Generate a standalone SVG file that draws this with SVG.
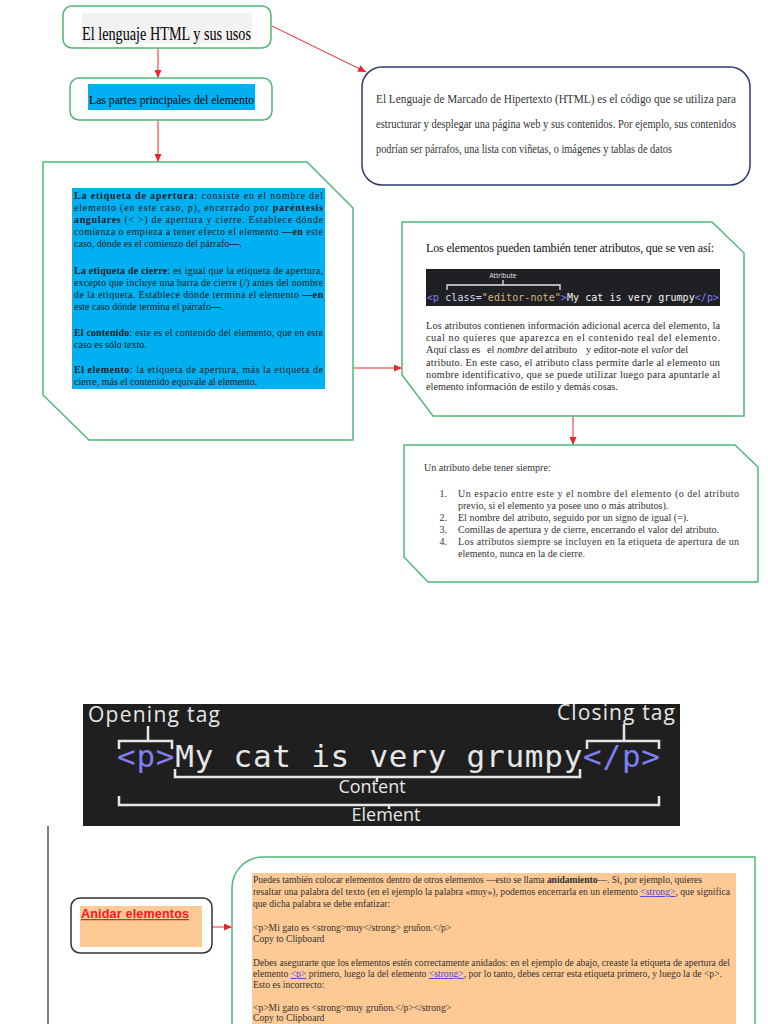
<svg xmlns="http://www.w3.org/2000/svg" width="768" height="1024" viewBox="0 0 768 1024">
<defs>
<marker id="ah" markerUnits="userSpaceOnUse" markerWidth="8" markerHeight="7" refX="8" refY="3.5" orient="auto">
<path d="M0,0 L8,3.5 L0,7 z" fill="#e8282b"/>
</marker>
<style>
.gr{fill:#fff;stroke:#4fb878;stroke-width:1.5}
.sf{font-family:"Liberation Serif","Times New Roman",serif}
.cn{stroke:#e8282b;stroke-width:1;fill:none;marker-end:url(#ah)}
.bx{font-size:10px;fill:#1c1c24}
.at{font-size:10.3px;fill:#2a2a2a}
.ls{font-size:10px;fill:#333}
.nb{font-size:9.6px;fill:#333}
.lk{fill:#4a3ee0;text-decoration:underline}
.wl{font-family:"Open Sans","DejaVu Sans",sans-serif;fill:#e6e6e6}
.br{fill:none;stroke:#e6e6e6;stroke-width:2.5}
.mono{font-family:"DejaVu Sans Mono","Liberation Mono",monospace}
</style>
</defs>
<rect width="768" height="1024" fill="#fff"/>

<g id="connectors">
<line class="cn" x1="158" y1="48" x2="158" y2="78"/>
<line class="cn" x1="272" y1="26" x2="366" y2="72"/>
<line class="cn" x1="158" y1="120" x2="158" y2="162"/>
<line class="cn" x1="354" y1="368" x2="402" y2="368"/>
<line class="cn" x1="573" y1="416" x2="573" y2="445"/>
<line class="cn" x1="212" y1="927" x2="232" y2="927"/>
</g>

<g id="title">
<rect class="gr" x="63" y="6" width="208" height="42" rx="9"/>
<rect x="82" y="13" width="170" height="30" fill="#f2f2f2"/>
<text class="sf" x="82" y="40" font-size="18" textLength="169" lengthAdjust="spacingAndGlyphs" fill="#000">El lenguaje HTML y sus usos</text>
</g>

<g id="partes">
<rect class="gr" x="70" y="78" width="202" height="42" rx="9"/>
<rect x="88" y="84" width="167" height="26" fill="#00b0f0"/>
<text class="sf" x="89" y="104" font-size="13" textLength="165" lengthAdjust="spacingAndGlyphs" fill="#000">Las partes principales del elemento</text>
</g>

<g id="descripcion">
<rect x="362" y="67" width="388" height="118" rx="20" fill="#fff" stroke="#2e3b6e" stroke-width="1.5"/>
<g class="sf" font-size="11.5" fill="#333">
<text x="376" y="103" textLength="360" lengthAdjust="spacingAndGlyphs">El Lenguaje de Marcado de Hipertexto (HTML) es el código que se utiliza para</text>
<text x="376" y="128" textLength="360" lengthAdjust="spacingAndGlyphs">estructurar y desplegar una página web y sus contenidos. Por ejemplo, sus contenidos</text>
<text x="376" y="153" textLength="296" lengthAdjust="spacingAndGlyphs">podrían ser párrafos, una lista con viñetas, o imágenes y tablas de datos</text>
</g>
</g>

<g id="partes-detalle">
<polygon class="gr" points="43,162 307,162 353,208 353,440 89,440 43,395"/>
<rect x="72" y="188" width="253" height="201" fill="#00b0f0"/>
<g class="sf bx">
<text x="74" y="199" textLength="249"><tspan font-weight="bold">La etiqueta de apertura</tspan>: consiste en el nombre del</text>
<text x="74" y="211" textLength="249">elemento (en este caso, p), encerrado por <tspan font-weight="bold">paréntesis</tspan></text>
<text x="74" y="223" textLength="249"><tspan font-weight="bold">angulares</tspan> (&lt; &gt;) de apertura y cierre. Establece dónde</text>
<text x="74" y="235" textLength="249">comienza o empieza a tener efecto el elemento <tspan font-weight="bold">—en</tspan> este</text>
<text x="74" y="247">caso, dónde es el comienzo del párrafo<tspan font-weight="bold">—</tspan>.</text>
<text x="74" y="274" textLength="249"><tspan font-weight="bold">La etiqueta de cierre</tspan>: es igual que la etiqueta de apertura,</text>
<text x="74" y="286" textLength="249">excepto que incluye una barra de cierre (/) antes del nombre</text>
<text x="74" y="298" textLength="249">de la etiqueta. Establece dónde termina el elemento <tspan font-weight="bold">—en</tspan></text>
<text x="74" y="310">este caso dónde termina el párrafo<tspan font-weight="bold">—</tspan>.</text>
<text x="74" y="336" textLength="249"><tspan font-weight="bold">El contenido</tspan>: este es el contenido del elemento, que en este</text>
<text x="74" y="348">caso es sólo texto.</text>
<text x="74" y="373" textLength="249"><tspan font-weight="bold">El elemento</tspan>: la etiqueta de apertura, más la etiqueta de</text>
<text x="74" y="385">cierre, más el contenido equivale al elemento.</text>
</g>
</g>

<g id="atributos">
<polygon class="gr" points="402,222 712,222 744,253 744,416 433,416 402,375"/>
<text class="sf" x="426" y="252" font-size="12" fill="#111" textLength="288">Los elementos pueden también tener atributos, que se ven así:</text>
<rect x="426" y="269" width="294" height="37" fill="#1f2023"/>
<text x="503" y="278" font-family="'Open Sans','DejaVu Sans',sans-serif" font-size="6.5" fill="#e6e6e6" text-anchor="middle">Attribute</text>
<path d="M447,290 V285 H560 V290 M503,285 V280" fill="none" stroke="#e6e6e6" stroke-width="1.3"/>
<text class="mono" x="427" y="301" font-size="10" textLength="292"><tspan fill="#7f7ff5">&lt;p</tspan><tspan fill="#d6dcf0"> class=</tspan><tspan fill="#d4b47c">"editor-note"</tspan><tspan fill="#7f7ff5">&gt;</tspan><tspan fill="#f2f2f2">My cat is very grumpy</tspan><tspan fill="#7f7ff5">&lt;/p&gt;</tspan></text>
<g class="sf at">
<text x="426" y="329" textLength="294">Los atributos contienen información adicional acerca del elemento, la</text>
<text x="426" y="341" textLength="294">cual no quieres que aparezca en el contenido real del elemento.</text>
<text y="353"><tspan x="426">Aquí class es</tspan><tspan x="487">el </tspan><tspan font-style="italic">nombre</tspan><tspan> del</tspan><tspan x="545">atributo</tspan><tspan x="586">y editor-note el </tspan><tspan font-style="italic">valor</tspan><tspan> del</tspan></text>
<text x="426" y="366" textLength="294">atributo. En este caso, el atributo class permite darle al elemento un</text>
<text x="426" y="378" textLength="294">nombre identificativo, que se puede utilizar luego para apuntarle al</text>
<text x="426" y="390">elemento información de estilo y demás cosas.</text>
</g>
</g>

<g id="requisitos">
<polygon class="gr" points="404,445 735,445 758,467 758,582 428,582 404,557"/>
<g class="sf ls">
<text x="424" y="471">Un atributo debe tener siempre:</text>
<text x="447" y="497" text-anchor="end">1.</text>
<text x="458" y="497" textLength="281">Un espacio entre este y el nombre del elemento (o del atributo</text>
<text x="458" y="509">previo, si el elemento ya posee uno o más atributos).</text>
<text x="447" y="521" text-anchor="end">2.</text>
<text x="458" y="521">El nombre del atributo, seguido por un signo de igual (=).</text>
<text x="447" y="533" text-anchor="end">3.</text>
<text x="458" y="533">Comillas de apertura y de cierre, encerrando el valor del atributo.</text>
<text x="447" y="545" text-anchor="end">4.</text>
<text x="458" y="545" textLength="281">Los atributos siempre se incluyen en la etiqueta de apertura de un</text>
<text x="458" y="557">elemento, nunca en la de cierre.</text>
</g>
</g>

<g id="anatomia">
<rect x="83" y="704" width="597" height="122" fill="#1f1f1f"/>
<text class="wl" x="88" y="722" font-size="21" textLength="132">Opening tag</text>
<text class="wl" x="557" y="720" font-size="21" textLength="118">Closing tag</text>
<path class="br" d="M148,726 V741 M119,749 V741 H172 V749"/>
<path class="br" d="M624,724 V741 M587,749 V741 H659 V749"/>
<text class="mono" x="117" y="767" font-size="31" textLength="543"><tspan fill="#7f7ff5">&lt;p&gt;</tspan><tspan fill="#e6e6e6">My cat is very grumpy</tspan><tspan fill="#7f7ff5">&lt;/p&gt;</tspan></text>
<path class="br" d="M175,769 V777 H580 V769 M377,777 V782"/>
<text class="wl" x="372" y="793" font-size="18" text-anchor="middle">Content</text>
<path class="br" d="M119,796 V805 H659 V796 M389,805 V809"/>
<text class="wl" x="386" y="821" font-size="18" text-anchor="middle">Element</text>
</g>

<line x1="48" y1="826" x2="48" y2="1024" stroke="#555" stroke-width="1.5"/>

<g id="anidar">
<rect x="71" y="898" width="141" height="55" rx="9" fill="#fff" stroke="#333" stroke-width="1.5"/>
<rect x="80" y="906" width="122" height="41" fill="#fdc994"/>
<text x="81" y="918" font-family="'Liberation Sans',Arial,sans-serif" font-size="12.5" font-weight="bold" fill="#ee1c24" text-decoration="underline" textLength="108">Anidar elementos</text>
</g>

<g id="anidamiento">
<path class="gr" d="M232,1030 V888 A31,31 0 0 1 263,857 H755 V1030"/>
<rect x="252" y="873" width="484" height="160" fill="#fdc994"/>
<g class="sf nb">
<text x="253" y="883" textLength="449">Puedes también colocar elementos dentro de otros elementos —esto se llama <tspan font-weight="bold">anidamiento—</tspan>. Si, por ejemplo, quieres</text>
<text x="253" y="895" textLength="477">resaltar una palabra del texto (en el ejemplo la palabra «muy»), podemos encerrarla en un elemento <tspan class="lk">&lt;strong&gt;</tspan>, que significa</text>
<text x="253" y="907">que dicha palabra se debe enfatizar:</text>
<text x="253" y="931">&lt;p&gt;Mi gato es &lt;strong&gt;muy&lt;/strong&gt; gruñon.&lt;/p&gt;</text>
<text x="253" y="942">Copy to Clipboard</text>
<text x="253" y="966" textLength="477">Debes asegurarte que los elementos estén correctamente anidados: en el ejemplo de abajo, creaste la etiqueta de apertura del</text>
<text x="253" y="977" textLength="469">elemento <tspan class="lk">&lt;p&gt;</tspan> primero, luego la del elemento <tspan class="lk">&lt;strong&gt;</tspan>, por lo tanto, debes cerrar esta etiqueta primero, y luego la de &lt;p&gt;.</text>
<text x="253" y="988">Esto es incorrecto:</text>
<text x="253" y="1011">&lt;p&gt;Mi gato es &lt;strong&gt;muy gruñon.&lt;/p&gt;&lt;/strong&gt;</text>
<text x="253" y="1021">Copy to Clipboard</text>
</g>
</g>
</svg>
